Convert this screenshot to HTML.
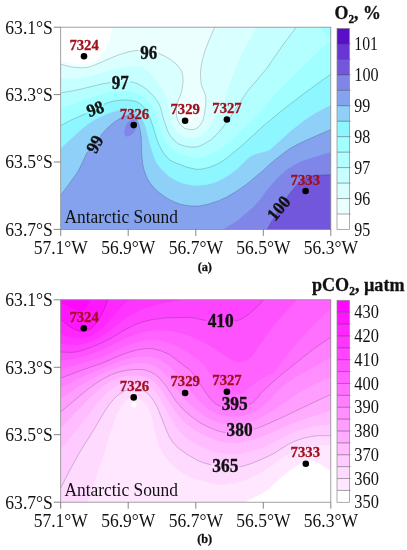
<!DOCTYPE html>
<html><head><meta charset="utf-8"><title>Figure</title>
<style>html,body{margin:0;padding:0;background:#fff}svg{display:block}</style></head>
<body>
<svg width="407" height="550" viewBox="0 0 407 550">
<rect width="407" height="550" fill="#fff"/>
<defs><clipPath id="ca"><rect x="60.7" y="27.2" width="270.1" height="202.2"/></clipPath><clipPath id="cb"><rect x="60.7" y="299.8" width="270.1" height="202.4"/></clipPath></defs>
<g font-family="'Liberation Serif','DejaVu Serif',serif">
<mask id="mca" maskUnits="userSpaceOnUse" x="58.7" y="25.2" width="274.1" height="206.2"><rect x="58.7" y="25.2" width="274.1" height="206.2" fill="#fff"/>
<rect x="138.9" y="46.2" width="19.5" height="13" fill="#000" transform="rotate(0.0 148.7 52.7)"/>
<rect x="110.5" y="76.2" width="19.5" height="13" fill="#000" transform="rotate(0.0 120.2 82.7)"/>
<rect x="85.5" y="102.3" width="19.5" height="13" fill="#000" transform="rotate(-20.0 95.3 108.8)"/>
<rect x="85.0" y="137.8" width="19.5" height="13" fill="#000" transform="rotate(-62.0 94.8 144.3)"/>
<rect x="264.4" y="201.6" width="28.5" height="13" fill="#000" transform="rotate(-50.0 278.7 208.1)"/>
</mask>
<rect x="60.7" y="27.2" width="270.1" height="202.2" fill="#ffffff"/>
<g clip-path="url(#ca)">
<path d="M112.0 27.2L330.8 27.2L330.8 229.4L60.7 229.4L60.7 61.1L71.7 63.7L77.7 64.3L82.7 64.4L85.7 64.1L89.7 63.2L92.7 62.1L96.2 60.2L98.8 58.2L101.5 55.2L104.2 51.2L106.9 46.2L108.7 42.2L110.2 37.2L112.0 27.2ZM188.7 106.2L186.7 106.9L184.7 108.5L183.1 111.2L182.5 114.2L183.0 117.2L184.2 119.2L186.7 121.0L188.7 121.4L191.7 120.7L193.5 119.2L195.0 116.2L195.3 113.2L194.7 110.2L193.6 108.2L191.7 106.6L190.7 106.2L188.7 106.2Z" fill="#ecffff"/>
<path d="M214.3 28.2L214.7 27.2L330.8 27.2L330.8 229.4L60.7 229.4L60.7 64.3L69.7 66.6L74.7 67.4L81.7 67.8L86.7 67.5L89.7 66.8L93.7 65.5L113.7 56.8L119.7 54.5L128.7 51.8L134.7 50.7L143.7 50.4L148.7 50.8L156.7 52.7L163.7 55.6L170.7 59.6L176.4 64.2L180.5 69.2L181.6 71.2L182.6 74.2L183.1 81.2L182.1 89.2L180.8 94.2L176.7 104.2L176.3 106.2L176.4 114.2L176.8 117.2L177.8 120.2L179.3 123.2L180.7 125.0L183.7 127.7L185.7 128.6L188.7 129.4L191.7 129.6L194.7 129.3L197.7 127.7L200.8 124.2L202.9 120.2L204.5 114.2L205.8 104.2L205.8 97.2L205.2 94.2L201.7 86.2L201.2 84.2L200.5 76.2L200.7 69.2L202.1 61.2L204.5 52.2L209.1 40.2L214.3 28.2Z" fill="#d9ffff"/>
<path d="M256.3 28.2L256.9 27.2L330.8 27.2L330.8 229.4L60.7 229.4L60.7 78.3L71.7 78.9L78.7 78.4L89.4 76.2L109.7 70.6L121.7 67.8L127.7 67.0L138.7 66.5L140.7 66.6L142.3 67.2L147.0 70.2L152.0 75.2L158.7 83.6L163.7 91.4L165.7 95.8L167.1 100.2L169.4 114.2L171.1 121.2L173.1 126.2L175.7 130.6L177.7 132.9L179.7 134.5L181.7 135.8L184.7 137.0L187.7 137.7L190.7 138.0L195.7 137.5L198.7 136.5L201.7 134.9L204.7 132.6L207.0 130.2L210.6 125.2L216.9 114.2L222.8 105.2L223.8 103.2L227.1 91.2L229.4 84.2L234.7 70.0L238.7 60.2L244.7 47.9L256.3 28.2Z" fill="#c6ffff"/>
<path d="M295.6 28.2L296.3 27.2L330.8 27.2L330.8 229.4L60.7 229.4L60.7 92.9L77.7 89.9L102.7 83.8L115.7 81.7L121.7 81.2L127.7 81.4L132.7 82.2L137.7 83.8L142.7 86.5L147.7 90.2L153.6 96.2L157.7 101.6L160.5 107.2L163.0 117.2L167.3 130.2L169.9 135.2L173.7 140.0L177.7 143.3L179.7 144.4L182.7 145.5L186.7 146.5L190.7 147.0L194.7 147.1L197.7 146.7L203.7 144.2L210.7 139.8L216.1 135.2L221.4 129.2L230.4 117.2L247.5 91.2L266.9 68.2L282.0 46.2L295.6 28.2Z" fill="#b3ffff"/>
<path d="M321.0 27.2L330.8 27.2L330.8 39.4L324.6 34.2L322.6 31.2L321.0 27.2ZM330.4 41.2L330.8 40.6L330.8 229.4L60.7 229.4L60.7 107.9L81.7 101.5L100.7 94.4L108.7 92.3L116.7 91.1L123.7 90.7L129.7 91.2L135.7 92.7L140.7 95.1L144.7 97.9L148.7 101.9L151.9 106.2L154.8 112.2L160.8 130.2L163.5 137.2L166.7 143.1L170.7 148.0L173.7 150.6L176.2 152.2L183.7 155.2L189.7 156.9L194.7 157.9L198.7 158.3L201.7 158.0L212.7 153.1L218.4 150.2L222.9 147.2L229.0 142.2L255.7 116.2L262.7 108.8L268.7 101.2L272.7 96.7L306.7 62.7L326.7 43.6L330.4 41.2Z" fill="#a0ffff"/>
<path d="M329.4 75.2L330.8 74.2L330.8 229.4L60.7 229.4L60.7 125.7L71.7 119.7L84.7 114.2L102.7 104.8L107.7 102.7L114.7 100.9L121.7 100.0L128.7 100.1L134.7 101.1L138.7 102.9L141.7 105.1L144.7 108.3L147.7 112.7L150.6 119.2L157.2 140.2L159.1 145.2L162.9 152.2L167.7 158.2L169.7 159.9L172.7 161.6L186.7 167.2L195.7 169.2L198.7 169.4L202.7 169.0L209.7 167.2L216.7 164.4L221.7 161.6L227.7 157.4L240.1 147.2L264.2 125.2L281.7 110.7L303.7 93.7L329.4 75.2Z" fill="#8ef6ff"/>
<path d="M330.3 105.2L330.8 104.9L330.8 229.4L60.7 229.4L60.7 148.4L79.3 131.2L85.2 126.2L92.7 121.1L103.7 115.4L112.7 111.9L117.7 110.5L121.7 109.9L126.7 109.6L130.7 109.8L133.7 110.4L135.7 111.5L139.5 115.2L143.7 122.2L145.7 127.4L149.7 144.1L154.3 158.2L156.7 163.4L161.7 169.4L165.7 173.6L169.7 176.9L174.7 179.9L179.6 182.2L183.7 183.7L188.7 184.8L193.7 185.4L199.7 185.5L206.7 184.7L213.7 183.0L218.7 181.1L224.7 177.8L231.6 173.2L237.7 168.5L247.0 159.2L250.7 156.3L255.7 154.0L265.7 151.4L269.7 149.9L289.7 131.9L303.7 120.8L314.7 113.4L330.3 105.2Z" fill="#8fd0f8"/>
<path d="M127.8 115.2L130.7 114.3L131.7 114.7L133.7 116.0L135.7 118.2L137.1 120.2L139.1 125.2L140.2 130.2L141.3 137.2L141.7 154.2L142.9 165.2L144.2 170.2L145.9 175.2L147.7 179.2L150.2 183.2L153.7 187.4L158.7 192.2L163.7 196.0L169.7 199.7L174.7 202.2L179.7 204.0L185.7 205.3L191.7 206.0L198.7 206.1L206.7 204.6L218.7 200.7L226.7 197.1L237.7 190.5L246.7 184.2L263.7 170.0L270.9 163.2L284.7 152.2L289.7 148.7L296.7 144.8L306.7 140.0L330.8 129.5L330.8 229.4L60.7 229.4L60.7 195.2L69.7 183.2L77.7 171.7L79.7 168.1L87.2 152.2L89.5 149.2L95.7 142.7L102.4 133.2L109.3 126.2L115.4 121.2L120.7 118.2L127.8 115.2Z" fill="#84a2ee"/>
<path d="M130.6 120.2L131.7 119.7L133.7 119.4L134.7 119.7L135.7 120.7L136.6 122.2L136.7 126.3L135.7 129.4L133.7 132.8L132.7 133.9L129.7 136.1L127.7 136.6L126.7 136.5L125.7 135.9L124.5 134.2L124.1 132.2L124.5 129.2L125.5 126.2L127.3 123.2L130.6 120.2ZM330.3 152.2L330.8 152.1L330.8 229.4L222.9 229.4L233.7 222.9L238.7 219.6L252.7 207.4L259.5 200.2L266.0 191.2L276.7 178.8L281.7 173.9L287.7 169.1L295.7 163.9L299.7 161.9L308.7 158.8L330.3 152.2Z" fill="#8086e8"/>
<path d="M315.9 175.2L330.8 174.7L330.8 229.4L267.3 229.4L277.3 211.2L279.7 207.4L288.5 195.2L297.4 184.2L300.7 181.1L305.7 177.9L310.5 176.2L315.9 175.2Z" fill="#7256db"/>
<path d="M60.7 64.3L69.7 66.6L74.7 67.4L81.7 67.8L86.7 67.5L89.7 66.8L93.7 65.5L113.7 56.8L119.7 54.5L128.7 51.8L134.7 50.7L143.7 50.4L148.7 50.8L156.7 52.7L163.7 55.6L170.7 59.6L176.4 64.2L180.5 69.2L181.6 71.2L182.6 74.2L183.1 81.2L182.1 89.2L180.8 94.2L176.7 104.2L176.3 106.2L176.4 114.2L176.8 117.2L177.8 120.2L179.3 123.2L180.7 125.0L183.7 127.7L185.7 128.6L188.7 129.4L191.7 129.6L194.7 129.3L197.7 127.7L200.7 124.3L202.9 120.2L204.3 115.2L205.7 105.2L205.9 98.2L205.2 94.2L201.7 86.2L201.2 84.2L200.4 75.2L200.8 68.2L202.3 60.2L204.8 51.2L209.5 39.2L214.7 27.2M60.7 92.9L77.7 89.9L102.7 83.8L115.7 81.7L121.7 81.2L127.7 81.4L132.7 82.2L137.7 83.8L142.7 86.5L147.7 90.2L153.6 96.2L157.7 101.6L160.5 107.2L163.0 117.2L167.3 130.2L169.9 135.2L173.7 140.0L177.7 143.3L179.7 144.4L182.7 145.5L186.7 146.5L190.7 147.0L194.7 147.1L197.7 146.7L203.7 144.2L210.7 139.8L216.1 135.2L221.4 129.2L230.4 117.2L247.5 91.2L266.9 68.2L282.0 46.2L296.3 27.2M60.7 125.7L71.7 119.7L84.7 114.2L102.7 104.8L107.7 102.7L114.7 100.9L121.7 100.0L128.7 100.1L134.7 101.1L138.7 102.9L141.7 105.1L144.7 108.3L147.7 112.7L150.6 119.2L157.2 140.2L159.1 145.2L162.9 152.2L167.7 158.2L169.7 159.9L172.7 161.6L186.7 167.2L195.7 169.2L198.7 169.4L202.7 169.0L209.7 167.2L216.7 164.4L221.7 161.6L227.7 157.4L240.1 147.2L264.2 125.2L281.7 110.7L304.7 93.0L330.8 74.2M60.7 195.2L69.7 183.2L77.7 171.7L79.7 168.1L87.2 152.2L89.5 149.2L95.7 142.7L102.4 133.2L109.3 126.2L115.4 121.2L120.7 118.2L129.7 114.4L130.7 114.3L131.7 114.7L134.7 117.0L137.6 121.2L139.1 125.2L140.2 130.2L141.3 137.2L141.7 154.2L142.9 165.2L144.2 170.2L145.9 175.2L147.7 179.2L149.5 182.2L153.5 187.2L157.7 191.3L163.7 196.0L169.7 199.7L174.7 202.2L179.7 204.0L185.7 205.3L191.7 206.0L198.7 206.1L206.7 204.6L218.7 200.7L226.7 197.1L237.7 190.5L246.7 184.2L263.7 170.0L270.9 163.2L284.7 152.2L289.7 148.7L296.7 144.8L306.7 140.0L330.8 129.5M267.3 229.4L277.3 211.2L279.8 207.2L290.1 193.2L296.5 185.2L299.7 181.9L305.2 178.2L307.7 177.1L311.7 175.9L317.7 175.1L330.8 174.7" fill="none" stroke="#1a1a2a" stroke-opacity="0.42" stroke-width="0.5" mask="url(#mca)"/>
</g>
<rect x="60.7" y="27.2" width="270.1" height="202.2" fill="none" stroke="#8a8a8a" stroke-width="0.8"/>
<path d="M53.7 27.2H60.7M53.7 94.6H60.7M53.7 162.0H60.7M53.7 229.4H60.7M60.7 229.4V235.9M128.2 229.4V235.9M195.8 229.4V235.9M263.3 229.4V235.9M330.8 229.4V235.9" stroke="#777" stroke-width="0.9" fill="none"/>
<mask id="mcb" maskUnits="userSpaceOnUse" x="58.7" y="297.8" width="274.1" height="206.4"><rect x="58.7" y="297.8" width="274.1" height="206.4" fill="#fff"/>
<rect x="206.4" y="314.5" width="28.5" height="13" fill="#000" transform="rotate(0.0 220.7 321.0)"/>
<rect x="220.4" y="397.1" width="28.5" height="13" fill="#000" transform="rotate(0.0 234.7 403.6)"/>
<rect x="225.3" y="423.9" width="28.5" height="13" fill="#000" transform="rotate(0.0 239.6 430.4)"/>
<rect x="211.1" y="459.3" width="28.5" height="13" fill="#000" transform="rotate(0.0 225.3 465.8)"/>
</mask>
<rect x="60.7" y="299.8" width="270.1" height="202.4" fill="#ffffff"/>
<g clip-path="url(#cb)">
<path d="M60.7 299.8L330.8 299.8L330.8 471.1L319.5 463.8L315.7 461.7L312.7 460.7L309.7 460.2L306.7 460.3L304.7 460.8L292.3 468.8L286.8 472.8L274.0 483.8L268.7 489.0L266.4 490.8L260.7 494.2L244.6 502.2L60.7 502.2L60.7 299.8ZM132.7 402.2L131.5 403.8L131.5 405.8L132.7 407.5L134.7 407.7L135.7 407.0L136.3 405.8L136.3 403.8L135.8 402.8L134.7 402.0L133.7 401.8L132.7 402.2Z" fill="#ffe8ff"/>
<path d="M60.7 299.8L330.8 299.8L330.8 445.0L318.7 445.6L311.7 446.5L304.7 447.9L297.7 450.2L289.7 454.0L281.1 458.8L271.7 466.0L261.7 472.7L251.7 477.5L242.7 481.0L234.7 483.2L225.7 484.7L218.7 485.0L213.7 484.1L205.7 481.7L194.7 479.1L188.7 476.6L183.7 474.0L178.8 470.8L174.7 467.5L170.7 463.6L166.7 458.9L163.7 454.8L160.8 449.8L158.4 444.8L157.0 440.8L155.4 434.8L151.7 416.5L150.0 411.8L148.0 407.8L144.4 402.8L139.7 399.0L135.7 397.0L133.7 396.6L131.7 396.8L128.2 398.8L123.4 403.8L119.9 408.8L116.3 415.8L110.7 431.8L105.7 448.8L102.1 459.8L87.4 502.2L60.7 502.2L60.7 299.8Z" fill="#ffdaff"/>
<path d="M60.7 299.8L330.8 299.8L330.8 435.8L321.7 435.6L315.7 435.9L306.7 437.4L298.7 439.7L293.7 441.7L287.7 444.6L275.0 452.8L267.7 456.6L251.7 463.4L243.7 466.0L235.7 467.4L228.7 467.7L221.7 467.1L212.7 465.3L203.7 462.9L197.7 460.5L187.7 454.7L179.7 449.2L176.8 446.8L172.7 442.1L169.3 436.8L165.7 428.5L157.1 406.8L153.7 400.9L149.9 395.8L147.7 393.4L145.7 391.8L140.7 389.9L135.7 388.9L132.7 388.9L129.7 389.3L124.7 390.8L119.8 393.8L114.0 398.8L109.0 404.8L103.2 413.8L94.7 428.3L78.8 453.8L70.0 469.8L60.7 488.1L60.7 299.8Z" fill="#ffcaff"/>
<path d="M60.7 299.8L330.8 299.8L330.8 424.4L312.7 426.8L305.7 428.4L298.7 430.4L292.7 432.7L286.7 435.4L271.7 443.6L266.7 446.0L257.7 449.3L247.7 452.3L240.7 453.7L233.7 454.2L226.7 453.9L218.7 452.7L209.7 450.2L201.7 447.0L192.7 442.2L185.7 437.3L179.9 431.8L175.2 425.8L170.7 418.4L159.7 398.3L156.0 392.8L152.7 388.8L150.5 386.8L147.7 384.9L143.0 382.8L136.7 381.6L130.7 381.6L123.7 382.9L117.7 385.2L111.8 388.8L105.7 393.9L97.7 402.8L82.7 422.2L60.7 449.6L60.7 299.8Z" fill="#ffbcff"/>
<path d="M60.7 299.8L330.8 299.8L330.8 410.8L309.7 417.2L298.7 420.9L286.7 425.7L263.7 436.0L251.7 440.1L244.7 441.8L237.7 442.8L230.7 442.8L223.7 442.0L218.7 441.0L213.7 439.5L202.7 434.8L194.1 429.8L185.7 423.3L180.7 418.4L175.7 412.3L170.7 405.1L163.1 392.8L159.6 387.8L155.7 383.3L151.7 380.0L147.7 377.7L142.7 376.1L137.7 375.4L131.7 375.4L123.7 376.4L116.7 378.5L109.7 381.8L103.6 385.8L97.4 390.8L92.0 395.8L60.7 427.9L60.7 299.8Z" fill="#ffacff"/>
<path d="M60.7 299.8L330.8 299.8L330.8 394.6L317.7 400.5L281.5 417.8L259.7 427.4L248.7 431.0L241.7 432.7L234.7 433.3L226.7 432.8L221.7 431.9L216.7 430.5L205.7 425.8L199.7 422.5L187.7 413.7L181.7 407.9L175.7 400.7L166.5 386.8L163.5 382.8L158.7 377.5L154.7 374.2L150.4 371.8L145.7 370.2L140.7 369.5L133.7 369.5L125.7 370.4L117.7 372.3L110.7 375.0L103.3 378.8L95.3 383.8L88.3 388.8L60.7 411.9L60.7 299.8Z" fill="#ff9eff"/>
<path d="M60.7 299.8L330.8 299.8L330.8 376.4L311.7 385.8L299.7 392.3L291.7 397.5L274.5 409.8L262.6 416.8L256.2 419.8L249.7 422.2L243.7 423.8L237.7 424.7L233.7 424.9L228.7 424.7L220.7 423.3L216.7 422.0L211.7 420.0L204.1 415.8L193.6 407.8L186.3 400.8L180.4 393.8L170.3 379.8L166.7 375.6L162.7 371.6L158.7 368.4L154.7 366.1L150.7 364.5L145.7 363.4L137.7 363.2L128.7 364.4L119.7 366.6L110.7 369.8L99.8 374.8L88.4 380.8L78.6 386.8L60.7 398.7L60.7 299.8Z" fill="#ff8eff"/>
<path d="M60.7 299.8L330.8 299.8L330.8 357.5L294.7 377.8L286.9 382.8L280.7 388.2L265.7 403.8L262.3 406.8L258.1 409.8L253.7 412.2L248.7 414.3L243.7 415.7L237.7 416.6L229.7 416.8L222.7 415.8L215.7 413.6L209.7 410.3L204.0 405.8L198.0 399.8L192.0 392.8L180.6 377.8L175.9 372.8L169.7 366.8L164.7 362.8L159.7 359.8L154.7 357.8L149.7 356.6L143.7 356.3L137.7 356.8L129.7 358.3L121.7 360.6L86.8 374.8L76.3 379.8L60.7 387.7L60.7 299.8Z" fill="#ff80ff"/>
<path d="M60.7 299.8L330.8 299.8L330.8 337.1L312.7 349.6L281.7 374.3L263.2 390.8L260.3 393.8L257.6 397.8L253.7 401.6L250.8 403.8L246.4 405.8L239.7 407.4L233.7 408.0L226.7 407.7L222.7 407.0L218.7 405.7L215.7 404.1L212.7 401.5L209.5 397.8L205.9 392.8L193.7 374.4L191.6 371.8L188.7 369.0L181.7 364.0L172.7 356.9L168.7 354.2L161.7 351.1L153.7 349.0L148.7 348.5L143.7 348.8L136.7 350.1L128.7 352.3L120.7 355.2L103.2 362.8L83.0 369.8L60.7 378.1L60.7 299.8Z" fill="#ff70ff"/>
<path d="M60.7 299.8L330.8 299.8L330.8 309.0L315.7 322.8L301.7 337.6L290.7 350.5L274.7 371.7L258.4 380.8L254.2 383.8L246.7 390.0L243.7 392.0L238.7 394.0L235.7 394.5L232.7 394.7L228.7 394.1L225.7 393.0L223.6 391.8L220.7 389.3L216.7 384.3L208.8 371.8L205.2 366.8L200.7 361.9L195.7 357.7L185.3 350.8L175.7 345.5L167.7 342.4L159.7 340.7L153.7 340.1L148.7 340.1L142.7 340.9L136.7 342.4L125.7 346.3L106.7 355.1L98.7 358.2L77.7 364.8L60.7 369.2L60.7 299.8Z" fill="#ff62ff"/>
<path d="M60.7 299.8L61.7 299.8L297.1 299.8L282.2 315.8L274.5 324.8L267.7 333.8L251.7 356.7L249.2 358.8L245.7 360.6L242.7 361.6L239.7 361.9L235.7 361.5L230.7 359.6L226.7 357.3L214.2 348.8L207.7 344.8L198.7 339.9L190.7 336.4L183.7 334.0L175.7 332.0L167.7 330.8L159.7 330.3L153.7 330.4L148.7 330.9L143.7 331.9L138.7 333.2L127.7 337.4L104.7 348.7L91.7 353.8L82.7 356.8L75.7 358.6L69.7 359.6L60.7 360.5L60.7 299.8Z" fill="#ff52ff"/>
<path d="M60.7 299.8L61.7 299.8L263.8 299.8L257.7 306.2L249.7 313.5L242.7 318.4L237.7 320.4L228.7 322.0L218.7 322.4L209.7 321.3L193.7 317.8L186.7 317.4L163.7 318.1L150.7 319.8L141.7 322.2L132.7 325.8L122.7 331.0L109.7 339.0L95.7 345.6L87.7 348.6L80.7 350.8L75.7 351.9L70.7 352.4L60.7 352.0L60.7 299.8Z" fill="#ff44ff"/>
<path d="M60.7 299.8L61.7 299.8L182.2 299.8L168.7 302.2L157.7 304.5L148.7 307.0L140.7 309.9L133.7 313.4L127.7 317.1L120.7 322.1L107.3 332.8L98.7 338.1L92.7 340.9L85.7 343.4L79.7 344.7L73.7 345.2L68.7 344.9L60.7 343.5L60.7 299.8Z" fill="#ff34ff"/>
<path d="M60.7 299.8L61.7 299.8L129.8 299.8L125.7 302.8L121.7 306.3L106.6 323.8L102.6 327.8L97.9 331.8L93.2 334.8L88.7 336.8L83.7 338.1L78.7 338.5L74.7 338.2L70.7 337.4L60.7 333.7L60.7 299.8Z" fill="#ff26ff"/>
<path d="M60.7 299.8L107.7 299.8L107.8 299.8L104.9 307.8L102.6 312.8L99.2 318.8L94.8 324.8L92.0 327.8L88.9 329.8L85.7 331.0L81.7 331.4L77.7 330.6L72.7 328.4L67.5 324.8L60.7 319.2L60.7 299.8Z" fill="#ff16ff"/>
<path d="M60.7 299.8L61.7 299.8L90.3 299.8L87.7 305.7L85.7 308.9L83.7 310.9L82.7 311.4L80.7 311.8L78.7 311.5L76.7 310.7L67.2 305.8L60.7 303.2L60.7 299.8Z" fill="#ff08ff"/>
<path d="M330.8 435.8L321.7 435.6L315.7 435.9L306.7 437.4L298.7 439.7L293.7 441.7L287.7 444.6L275.0 452.8L267.7 456.6L251.7 463.4L243.7 466.0L235.7 467.4L228.7 467.7L221.7 467.1L212.7 465.3L203.7 462.9L197.7 460.5L187.7 454.7L179.7 449.2L176.8 446.8L172.7 442.1L169.3 436.8L165.7 428.5L157.1 406.8L153.7 400.9L149.9 395.8L147.7 393.4L145.7 391.8L140.7 389.9L135.7 388.9L132.7 388.9L129.7 389.3L124.7 390.8L119.8 393.8L114.0 398.8L109.0 404.8L103.2 413.8L94.7 428.3L78.8 453.8L70.0 469.8L60.7 488.1M330.8 394.6L317.7 400.5L281.5 417.8L259.7 427.4L248.7 431.0L241.7 432.7L234.7 433.3L226.7 432.8L221.7 431.9L216.7 430.5L205.7 425.8L199.7 422.5L187.7 413.7L181.7 407.9L175.7 400.7L166.5 386.8L163.5 382.8L158.7 377.5L154.7 374.2L150.4 371.8L145.7 370.2L140.7 369.5L133.7 369.5L125.7 370.4L117.7 372.3L110.7 375.0L103.3 378.8L95.3 383.8L88.3 388.8L60.7 411.9M330.8 337.1L312.7 349.6L279.7 376.0L262.2 391.8L260.3 393.8L257.7 397.7L252.3 402.8L249.7 404.5L246.7 405.7L238.7 407.6L232.7 408.1L225.7 407.6L219.7 406.1L215.7 404.1L212.0 400.8L208.7 396.8L201.7 386.8L194.0 374.8L189.6 369.8L181.7 364.0L172.7 356.9L168.7 354.2L161.7 351.1L153.7 349.0L148.7 348.5L143.7 348.8L136.7 350.1L128.7 352.3L120.7 355.2L103.2 362.8L83.0 369.8L60.7 378.1M263.8 299.8L257.7 306.2L249.7 313.5L242.7 318.4L239.7 319.8L236.7 320.7L226.7 322.2L217.7 322.4L203.7 320.1L193.7 317.8L187.7 317.4L164.7 318.0L151.7 319.7L142.7 321.8L133.7 325.4L123.7 330.4L112.7 337.3L107.7 340.1L98.7 344.3L88.7 348.3L80.7 350.8L74.7 352.1L69.7 352.4L60.7 352.0M107.8 299.8L103.6 310.8L98.5 319.8L93.1 326.8L90.7 328.8L87.7 330.3L84.7 331.2L81.7 331.4L78.7 330.9L75.7 329.8L70.2 326.8L63.7 321.9L60.7 319.2" fill="none" stroke="#1a1a2a" stroke-opacity="0.42" stroke-width="0.5" mask="url(#mcb)"/>
</g>
<rect x="60.7" y="299.8" width="270.1" height="202.4" fill="none" stroke="#8a8a8a" stroke-width="0.8"/>
<path d="M53.7 299.8H60.7M53.7 367.3H60.7M53.7 434.7H60.7M53.7 502.2H60.7M60.7 502.2V508.7M128.2 502.2V508.7M195.8 502.2V508.7M263.3 502.2V508.7M330.8 502.2V508.7" stroke="#777" stroke-width="0.9" fill="none"/>
<text x="5.3" y="33.6" font-size="18.2" fill="#111" textLength="47.6" lengthAdjust="spacingAndGlyphs">63.1°S</text>
<text x="5.3" y="101.0" font-size="18.2" fill="#111" textLength="47.6" lengthAdjust="spacingAndGlyphs">63.3°S</text>
<text x="5.3" y="168.4" font-size="18.2" fill="#111" textLength="47.6" lengthAdjust="spacingAndGlyphs">63.5°S</text>
<text x="5.3" y="235.8" font-size="18.2" fill="#111" textLength="47.6" lengthAdjust="spacingAndGlyphs">63.7°S</text>
<text x="33.7" y="254.0" font-size="18.2" fill="#111" textLength="54.2" lengthAdjust="spacingAndGlyphs">57.1°W</text>
<text x="101.2" y="254.0" font-size="18.2" fill="#111" textLength="54.2" lengthAdjust="spacingAndGlyphs">56.9°W</text>
<text x="168.8" y="254.0" font-size="18.2" fill="#111" textLength="54.2" lengthAdjust="spacingAndGlyphs">56.7°W</text>
<text x="236.3" y="254.0" font-size="18.2" fill="#111" textLength="54.2" lengthAdjust="spacingAndGlyphs">56.5°W</text>
<text x="303.8" y="254.0" font-size="18.2" fill="#111" textLength="54.2" lengthAdjust="spacingAndGlyphs">56.3°W</text>
<text x="64.4" y="222.9" font-size="18.0" fill="#111" textLength="113.6" lengthAdjust="spacingAndGlyphs">Antarctic Sound</text>
<text x="5.3" y="306.2" font-size="18.2" fill="#111" textLength="47.6" lengthAdjust="spacingAndGlyphs">63.1°S</text>
<text x="5.3" y="373.7" font-size="18.2" fill="#111" textLength="47.6" lengthAdjust="spacingAndGlyphs">63.3°S</text>
<text x="5.3" y="441.1" font-size="18.2" fill="#111" textLength="47.6" lengthAdjust="spacingAndGlyphs">63.5°S</text>
<text x="5.3" y="508.6" font-size="18.2" fill="#111" textLength="47.6" lengthAdjust="spacingAndGlyphs">63.7°S</text>
<text x="33.7" y="526.8" font-size="18.2" fill="#111" textLength="54.2" lengthAdjust="spacingAndGlyphs">57.1°W</text>
<text x="101.2" y="526.8" font-size="18.2" fill="#111" textLength="54.2" lengthAdjust="spacingAndGlyphs">56.9°W</text>
<text x="168.8" y="526.8" font-size="18.2" fill="#111" textLength="54.2" lengthAdjust="spacingAndGlyphs">56.7°W</text>
<text x="236.3" y="526.8" font-size="18.2" fill="#111" textLength="54.2" lengthAdjust="spacingAndGlyphs">56.5°W</text>
<text x="303.8" y="526.8" font-size="18.2" fill="#111" textLength="54.2" lengthAdjust="spacingAndGlyphs">56.3°W</text>
<text x="64.4" y="495.7" font-size="18.0" fill="#111" textLength="113.6" lengthAdjust="spacingAndGlyphs">Antarctic Sound</text>
<rect x="337.0" y="214.03" width="12.5" height="15.67" fill="#ffffff"/>
<rect x="337.0" y="198.56" width="12.5" height="15.67" fill="#ecffff"/>
<rect x="337.0" y="183.09" width="12.5" height="15.67" fill="#d9ffff"/>
<rect x="337.0" y="167.62" width="12.5" height="15.67" fill="#c6ffff"/>
<rect x="337.0" y="152.15" width="12.5" height="15.67" fill="#b3ffff"/>
<rect x="337.0" y="136.68" width="12.5" height="15.67" fill="#a0ffff"/>
<rect x="337.0" y="121.22" width="12.5" height="15.67" fill="#8ef6ff"/>
<rect x="337.0" y="105.75" width="12.5" height="15.67" fill="#8fd0f8"/>
<rect x="337.0" y="90.28" width="12.5" height="15.67" fill="#84a2ee"/>
<rect x="337.0" y="74.81" width="12.5" height="15.67" fill="#8086e8"/>
<rect x="337.0" y="59.34" width="12.5" height="15.67" fill="#7256db"/>
<rect x="337.0" y="43.87" width="12.5" height="15.67" fill="#6b34d4"/>
<rect x="337.0" y="28.40" width="12.5" height="15.67" fill="#5a0ec8"/>
<path d="M337.0 214.03H350.7M337.0 198.56H350.7M337.0 183.09H350.7M337.0 167.62H350.7M337.0 152.15H350.7M337.0 136.68H350.7M337.0 121.22H350.7M337.0 105.75H350.7M337.0 90.28H350.7M337.0 74.81H350.7M337.0 59.34H350.7M337.0 43.87H350.7" stroke="#444" stroke-width="0.6" stroke-opacity="0.8" fill="none"/>
<rect x="337.0" y="28.4" width="12.5" height="201.1" fill="none" stroke="#888" stroke-width="0.7"/>
<text x="354.3" y="235.5" font-size="18.3" fill="#111" textLength="16.0" lengthAdjust="spacingAndGlyphs">95</text>
<text x="354.3" y="204.6" font-size="18.3" fill="#111" textLength="16.0" lengthAdjust="spacingAndGlyphs">96</text>
<text x="354.3" y="173.6" font-size="18.3" fill="#111" textLength="16.0" lengthAdjust="spacingAndGlyphs">97</text>
<text x="354.3" y="142.7" font-size="18.3" fill="#111" textLength="16.0" lengthAdjust="spacingAndGlyphs">98</text>
<text x="354.3" y="111.7" font-size="18.3" fill="#111" textLength="16.0" lengthAdjust="spacingAndGlyphs">99</text>
<text x="354.3" y="80.8" font-size="18.3" fill="#111" textLength="24.3" lengthAdjust="spacingAndGlyphs">100</text>
<text x="354.3" y="49.9" font-size="18.3" fill="#111" textLength="23.6" lengthAdjust="spacingAndGlyphs">101</text>
<rect x="337.0" y="490.42" width="12.5" height="12.08" fill="#ffffff"/>
<rect x="337.0" y="478.54" width="12.5" height="12.08" fill="#ffe8ff"/>
<rect x="337.0" y="466.65" width="12.5" height="12.08" fill="#ffdaff"/>
<rect x="337.0" y="454.77" width="12.5" height="12.08" fill="#ffcaff"/>
<rect x="337.0" y="442.89" width="12.5" height="12.08" fill="#ffbcff"/>
<rect x="337.0" y="431.01" width="12.5" height="12.08" fill="#ffacff"/>
<rect x="337.0" y="419.12" width="12.5" height="12.08" fill="#ff9eff"/>
<rect x="337.0" y="407.24" width="12.5" height="12.08" fill="#ff8eff"/>
<rect x="337.0" y="395.36" width="12.5" height="12.08" fill="#ff80ff"/>
<rect x="337.0" y="383.48" width="12.5" height="12.08" fill="#ff70ff"/>
<rect x="337.0" y="371.59" width="12.5" height="12.08" fill="#ff62ff"/>
<rect x="337.0" y="359.71" width="12.5" height="12.08" fill="#ff52ff"/>
<rect x="337.0" y="347.83" width="12.5" height="12.08" fill="#ff44ff"/>
<rect x="337.0" y="335.95" width="12.5" height="12.08" fill="#ff34ff"/>
<rect x="337.0" y="324.06" width="12.5" height="12.08" fill="#ff26ff"/>
<rect x="337.0" y="312.18" width="12.5" height="12.08" fill="#ff16ff"/>
<rect x="337.0" y="300.30" width="12.5" height="12.08" fill="#ff08ff"/>
<path d="M337.0 490.42H350.7M337.0 478.54H350.7M337.0 466.65H350.7M337.0 454.77H350.7M337.0 442.89H350.7M337.0 431.01H350.7M337.0 419.12H350.7M337.0 407.24H350.7M337.0 395.36H350.7M337.0 383.48H350.7M337.0 371.59H350.7M337.0 359.71H350.7M337.0 347.83H350.7M337.0 335.95H350.7M337.0 324.06H350.7M337.0 312.18H350.7" stroke="#444" stroke-width="0.6" stroke-opacity="0.8" fill="none"/>
<rect x="337.0" y="300.3" width="12.5" height="202.0" fill="none" stroke="#888" stroke-width="0.7"/>
<text x="354.3" y="508.3" font-size="18.3" fill="#111" textLength="24.6" lengthAdjust="spacingAndGlyphs">350</text>
<text x="354.3" y="484.5" font-size="18.3" fill="#111" textLength="24.6" lengthAdjust="spacingAndGlyphs">360</text>
<text x="354.3" y="460.8" font-size="18.3" fill="#111" textLength="24.6" lengthAdjust="spacingAndGlyphs">370</text>
<text x="354.3" y="437.0" font-size="18.3" fill="#111" textLength="24.6" lengthAdjust="spacingAndGlyphs">380</text>
<text x="354.3" y="413.2" font-size="18.3" fill="#111" textLength="24.6" lengthAdjust="spacingAndGlyphs">390</text>
<text x="354.3" y="389.5" font-size="18.3" fill="#111" textLength="24.6" lengthAdjust="spacingAndGlyphs">400</text>
<text x="354.3" y="365.7" font-size="18.3" fill="#111" textLength="24.6" lengthAdjust="spacingAndGlyphs">410</text>
<text x="354.3" y="341.9" font-size="18.3" fill="#111" textLength="24.6" lengthAdjust="spacingAndGlyphs">420</text>
<text x="354.3" y="318.2" font-size="18.3" fill="#111" textLength="24.6" lengthAdjust="spacingAndGlyphs">430</text>
<text x="334.5" y="18.6" font-size="19" font-weight="bold" fill="#111" stroke="#111" stroke-width="0.3" textLength="46.3" lengthAdjust="spacingAndGlyphs">O<tspan font-size="12" dy="4">2</tspan><tspan dy="-4">, %</tspan></text>
<text x="312" y="291.3" font-size="19" font-weight="bold" fill="#111" stroke="#111" stroke-width="0.3" textLength="92.5" lengthAdjust="spacingAndGlyphs">pCO<tspan font-size="12" dy="4">2</tspan><tspan dy="-4">, µatm</tspan></text>
<text x="204.8" y="270.9" font-size="12.3" fill="#111" font-weight="bold" stroke="#111" stroke-width="0.3" text-anchor="middle">(a)</text>
<text x="204.7" y="543.2" font-size="12.3" fill="#111" font-weight="bold" stroke="#111" stroke-width="0.3" text-anchor="middle">(b)</text>
<circle cx="84.0" cy="56.2" r="3.3" fill="#000"/>
<text x="69.4" y="49.6" font-size="15.2" fill="#a0101c" font-weight="bold" stroke="#a0101c" stroke-width="0.3" textLength="29.4" lengthAdjust="spacingAndGlyphs">7324</text>
<circle cx="133.7" cy="125.1" r="3.3" fill="#000"/>
<text x="119.8" y="119.0" font-size="15.2" fill="#a0101c" font-weight="bold" stroke="#a0101c" stroke-width="0.3" textLength="29.4" lengthAdjust="spacingAndGlyphs">7326</text>
<circle cx="185.1" cy="120.7" r="3.3" fill="#000"/>
<text x="170.5" y="113.8" font-size="15.2" fill="#a0101c" font-weight="bold" stroke="#a0101c" stroke-width="0.3" textLength="29.4" lengthAdjust="spacingAndGlyphs">7329</text>
<circle cx="226.9" cy="119.5" r="3.3" fill="#000"/>
<text x="212.3" y="112.6" font-size="15.2" fill="#a0101c" font-weight="bold" stroke="#a0101c" stroke-width="0.3" textLength="29.4" lengthAdjust="spacingAndGlyphs">7327</text>
<circle cx="305.6" cy="191.0" r="3.3" fill="#000"/>
<text x="290.6" y="184.6" font-size="15.2" fill="#a0101c" font-weight="bold" stroke="#a0101c" stroke-width="0.3" textLength="29.4" lengthAdjust="spacingAndGlyphs">7333</text>
<circle cx="83.8" cy="328.2" r="3.3" fill="#000"/>
<text x="69.4" y="322.0" font-size="15.2" fill="#a0101c" font-weight="bold" stroke="#a0101c" stroke-width="0.3" textLength="29.4" lengthAdjust="spacingAndGlyphs">7324</text>
<circle cx="133.7" cy="397.4" r="3.3" fill="#000"/>
<text x="119.8" y="390.8" font-size="15.2" fill="#a0101c" font-weight="bold" stroke="#a0101c" stroke-width="0.3" textLength="29.4" lengthAdjust="spacingAndGlyphs">7326</text>
<circle cx="185.1" cy="393.0" r="3.3" fill="#000"/>
<text x="170.5" y="386.0" font-size="15.2" fill="#a0101c" font-weight="bold" stroke="#a0101c" stroke-width="0.3" textLength="29.4" lengthAdjust="spacingAndGlyphs">7329</text>
<circle cx="226.9" cy="391.8" r="3.3" fill="#000"/>
<text x="212.3" y="385.0" font-size="15.2" fill="#a0101c" font-weight="bold" stroke="#a0101c" stroke-width="0.3" textLength="29.4" lengthAdjust="spacingAndGlyphs">7327</text>
<circle cx="305.8" cy="463.8" r="3.3" fill="#000"/>
<text x="290.6" y="457.3" font-size="15.2" fill="#a0101c" font-weight="bold" stroke="#a0101c" stroke-width="0.3" textLength="29.4" lengthAdjust="spacingAndGlyphs">7333</text>
<text x="148.7" y="58.7" font-size="18.0" font-weight="bold" fill="#111" stroke="#111" stroke-width="0.35" text-anchor="middle" textLength="17.0" lengthAdjust="spacingAndGlyphs" transform="rotate(0.0 148.7 52.7)">96</text>
<text x="120.2" y="88.7" font-size="18.0" font-weight="bold" fill="#111" stroke="#111" stroke-width="0.35" text-anchor="middle" textLength="17.0" lengthAdjust="spacingAndGlyphs" transform="rotate(0.0 120.2 82.7)">97</text>
<text x="95.3" y="114.8" font-size="18.0" font-weight="bold" fill="#111" stroke="#111" stroke-width="0.35" text-anchor="middle" textLength="17.0" lengthAdjust="spacingAndGlyphs" transform="rotate(-20.0 95.3 108.8)">98</text>
<text x="94.8" y="150.3" font-size="18.0" font-weight="bold" fill="#111" stroke="#111" stroke-width="0.35" text-anchor="middle" textLength="17.0" lengthAdjust="spacingAndGlyphs" transform="rotate(-62.0 94.8 144.3)">99</text>
<text x="278.7" y="214.1" font-size="18.0" font-weight="bold" fill="#111" stroke="#111" stroke-width="0.35" text-anchor="middle" textLength="26.0" lengthAdjust="spacingAndGlyphs" transform="rotate(-50.0 278.7 208.1)">100</text>
<text x="220.7" y="327.0" font-size="18.0" font-weight="bold" fill="#111" stroke="#111" stroke-width="0.35" text-anchor="middle" textLength="26.0" lengthAdjust="spacingAndGlyphs" transform="rotate(0.0 220.7 321.0)">410</text>
<text x="234.7" y="409.6" font-size="18.0" font-weight="bold" fill="#111" stroke="#111" stroke-width="0.35" text-anchor="middle" textLength="26.0" lengthAdjust="spacingAndGlyphs" transform="rotate(0.0 234.7 403.6)">395</text>
<text x="239.6" y="436.4" font-size="18.0" font-weight="bold" fill="#111" stroke="#111" stroke-width="0.35" text-anchor="middle" textLength="26.0" lengthAdjust="spacingAndGlyphs" transform="rotate(0.0 239.6 430.4)">380</text>
<text x="225.3" y="471.8" font-size="18.0" font-weight="bold" fill="#111" stroke="#111" stroke-width="0.35" text-anchor="middle" textLength="26.0" lengthAdjust="spacingAndGlyphs" transform="rotate(0.0 225.3 465.8)">365</text>
</g></svg>
</body></html>
